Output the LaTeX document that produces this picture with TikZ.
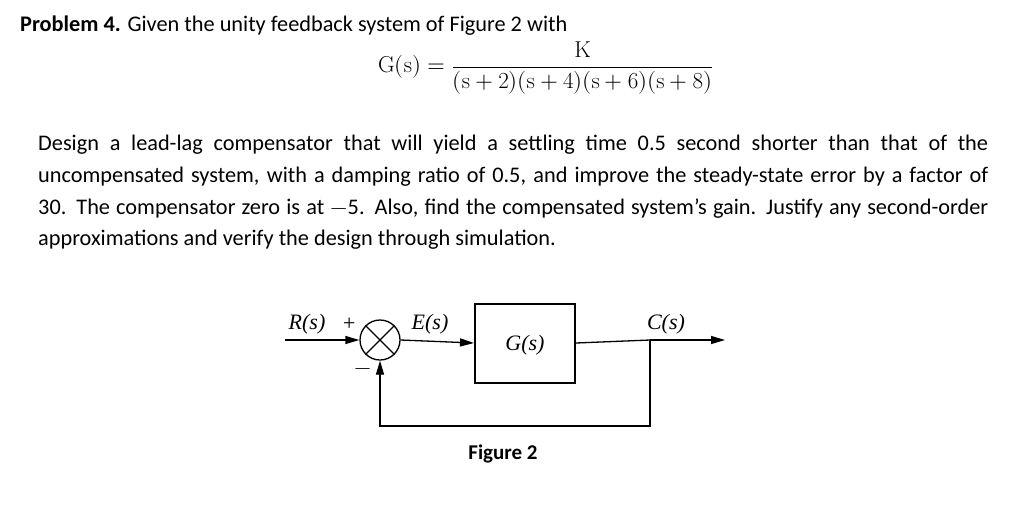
\documentclass[tikz,border=0pt]{standalone}
\usepackage{fontspec}
\setmainfont{Carlito}
\newfontfamily\tms{Liberation Serif}
\usepackage{unicode-math}
\setmathfont{Latin Modern Math}
\setmathrm{Latin Modern Roman}
\usetikzlibrary{arrows.meta}
\begin{document}
\begin{tikzpicture}[x=1pt,y=-1pt,
  line/.style={line width=1.3pt},
  arr/.style={line, -{Triangle[length=14pt,width=8pt]}},
  lab/.style={font=\fontsize{22}{24}\selectfont\tms\itshape, inner sep=0pt},
  body/.style={font=\fontsize{22.3}{26}\selectfont, inner sep=0pt, anchor=base west}]
\useasboundingbox (0,0) rectangle (1024,507);
\node[body] (t1) at (20,31) {\textbf{Problem 4.} Given the unity feedback system of Figure 2 with};
\node[font=\fontsize{23}{26}\selectfont, anchor=west, inner sep=0pt] (eq) at (378,68)
  {$\mathrm{G(s)}=\dfrac{\mathrm{K}}{\mathrm{(s+2)(s+4)(s+6)(s+8)}}$};
\node[anchor=north west, inner sep=0pt, text width=950pt, align=justify,
  font=\fontsize{22.3}{31.7}\selectfont] (par) at (38,135)
  {\hyphenpenalty=10000 Design a lead-lag compensator that will yield a settling time 0.5 second shorter than that of the\linebreak uncompensated system, with a damping ratio of 0.5, and improve the steady-state error by a factor of\linebreak 30. The compensator zero is at $-$5. Also, find the compensated system’s gain. Justify any second-order\linebreak approximations and verify the design through simulation.};
% diagram
\node[draw, circle, line, minimum size=40pt, inner sep=0pt] (sum) at (380,340) {};
\draw[line] (sum.45) -- (sum.225) (sum.135) -- (sum.315);
\node[draw, line width=2pt, minimum width=100pt, minimum height=79pt, inner sep=0pt] (G) at (525,343) {};
\node[lab] (Gl) at (525,345) {G(s)};
\coordinate (in) at (285,340);
\coordinate (br) at (650,340);
\coordinate (out) at (725,340);
\coordinate (bl) at (650,426);
\coordinate (bc) at (380,426);
\draw[arr] (in) -- (sum.west);
\draw[arr] (sum.east) -- (G.west);
\draw[line] (G.east) -- (br);
\draw[arr] (br) -- (out);
\draw[arr] (br) -- (bl) -- (bc) -- (sum.south);
\node[lab] (R) at (307,324) {R(s)};
\node[lab] (p) at (349,324) {+};
\node[lab] (m) at (363,372) {$-$};
\node[lab] (E) at (430,324) {E(s)};
\node[lab] (C) at (666,324) {C(s)};
\node[font=\fontsize{21}{24}\selectfont\bfseries, inner sep=0pt] (f) at (503,454) {Figure 2};
\end{tikzpicture}
\end{document}
